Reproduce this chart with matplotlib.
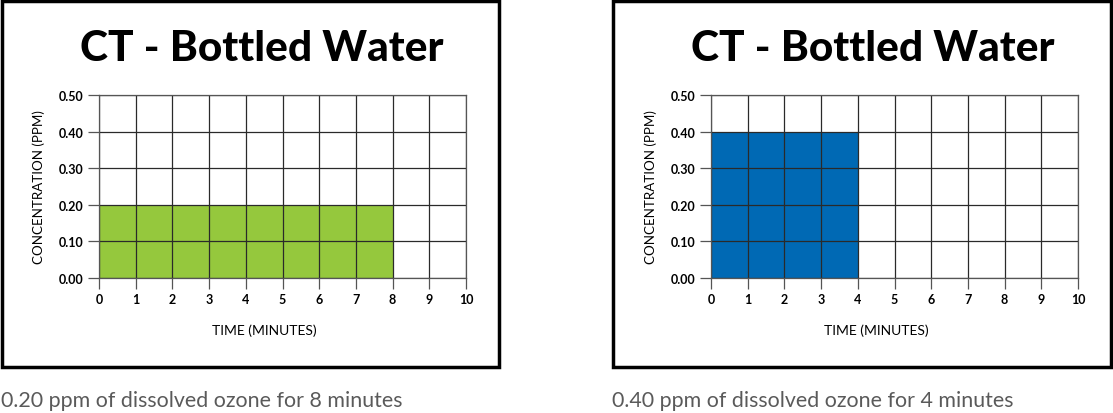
import matplotlib
matplotlib.use("Agg")
import matplotlib.pyplot as plt
from matplotlib.patches import Rectangle

W, H = 1113, 414
title = "CT - Bottled Water"
concentrations = [0.20, 0.40]
durations = [8, 4]
bar_colors = ["#95c83d", "#0069b4"]
captions = ["0.20 ppm of dissolved ozone for 8 minutes",
            "0.40 ppm of dissolved ozone for 4 minutes"]
x_ticks = list(range(0, 11))
y_ticks = [0.0, 0.1, 0.2, 0.3, 0.4, 0.5]
y_tick_labels = ["0.00", "0.10", "0.20", "0.30", "0.40", "0.50"]
x_label = "TIME (MINUTES)"
y_label = "CONCENTRATION (PPM)"

fig = plt.figure(figsize=(W / 100, H / 100), dpi=100)

def fx(px):
    return px / W

def fy(py):
    return 1 - py / H

panel_left = [1.5, 613]
panel_width = 497.5
axes_left = [99, 711]

for i in range(2):
    pl = panel_left[i]
    fig.add_artist(Rectangle((fx(pl), fy(368)), panel_width / W, 366.5 / H,
                             transform=fig.transFigure, fill=False,
                             edgecolor="black", linewidth=2.5))
    cx = pl + panel_width / 2 + 11
    fig.text(fx(cx), fy(49), title, ha="center", va="center",
             fontsize=30.5, fontweight="black", family=["Lato", "DejaVu Sans"])
    fig.text(fx(pl - 0.5), fy(401), captions[i], ha="left", va="center",
             fontsize=15.4, color="#5a5a5a", family=["Lato", "DejaVu Sans"])

    al = axes_left[i]
    ax = fig.add_axes([fx(al), fy(279), 367 / W, 183 / H])
    ax.bar(0, concentrations[i], width=durations[i], align="edge",
           color=bar_colors[i], edgecolor="none", zorder=1)
    ax.set_xlim(0, 10)
    ax.set_ylim(0, 0.5)
    ax.set_xticks(x_ticks)
    ax.set_yticks(y_ticks)
    ax.set_yticklabels(y_tick_labels)
    ax.grid(True, color="#2a2a2a", linewidth=0.9, zorder=2)
    ax.set_axisbelow(False)
    for s in ax.spines.values():
        s.set_color("#555555")
        s.set_linewidth(0.9)
        s.set_zorder(3)
    ax.tick_params(length=8, width=0.9, color="#555555", pad=3)
    for lab in ax.get_xticklabels() + ax.get_yticklabels():
        lab.set_fontweight("bold")
        lab.set_fontsize(9)
        lab.set_family(["Lato", "DejaVu Sans"])
    ax.set_xlabel(x_label, fontsize=10, family=["Lato", "DejaVu Sans"])
    ax.xaxis.set_label_coords((264.5 - 99) / 367, -(331 - 279) / 183)
    ax.xaxis.label.set_va("center")
    ax.set_ylabel(y_label, fontsize=9.6, family=["Lato", "DejaVu Sans"])
    ax.yaxis.set_label_coords(-(99 - 39) / 367, 0.5)
    ax.yaxis.label.set_va("center")

fig.savefig("out.png", dpi=100)
